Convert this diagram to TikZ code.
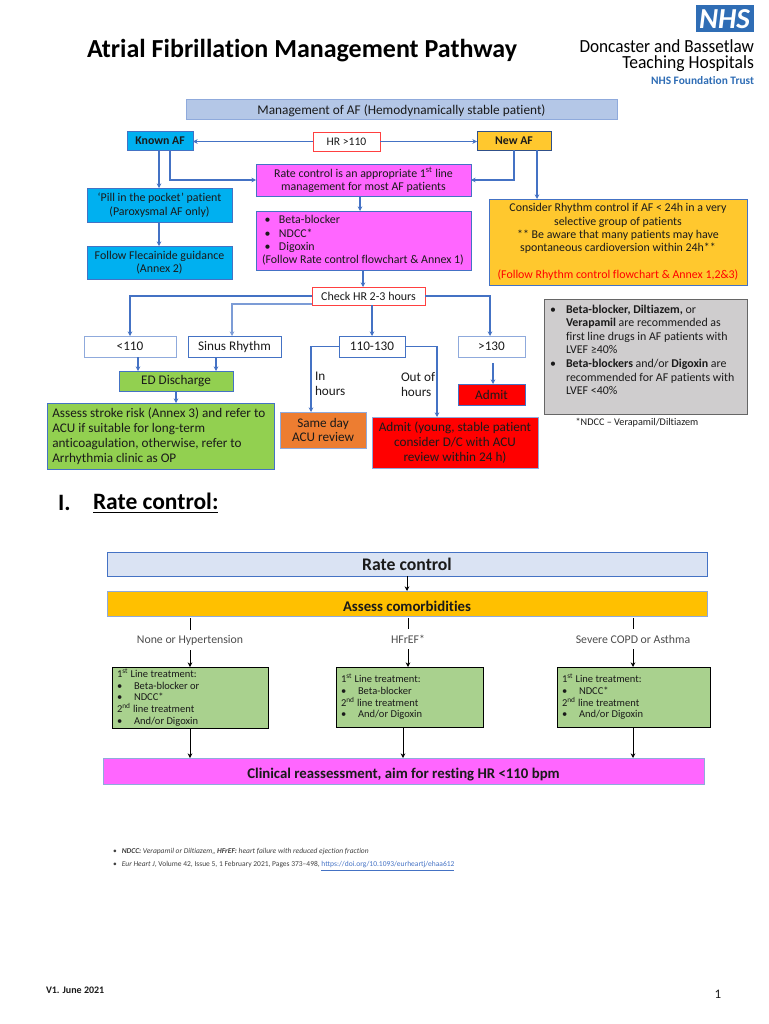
\documentclass[tikz,border=0pt]{standalone}
\usepackage{fontspec}
\setmainfont{Carlito}[Ligatures=NoCommon]
\usetikzlibrary{arrows.meta}
\definecolor{bl}{HTML}{4472C4}
\definecolor{lb}{HTML}{8FAADC}
\definecolor{hdr}{HTML}{B4C7E7}
\definecolor{cyanbox}{HTML}{00B0F0}
\definecolor{gold}{HTML}{FFC82E}
\definecolor{pink}{HTML}{FF66FF}
\definecolor{greyb}{HTML}{CFCDCE}
\definecolor{lime}{HTML}{92D050}
\definecolor{orangeb}{HTML}{ED7D31}
\definecolor{lav}{HTML}{DAE3F3}
\definecolor{amber}{HTML}{FFC000}
\definecolor{sage}{HTML}{A9D18E}
\definecolor{nhs}{HTML}{2F6DB5}
\definecolor{ink}{HTML}{1A1A1A}
\newcommand\fs[2]{\pgfmathsetmacro\fa{#1*.75}\pgfmathsetmacro\fb{#2*.75}\fontsize{\fa}{\fb}\selectfont}
\newcommand\bx[7]{%
  \pgfmathsetmacro\bw{(#4-#2)*.75}\pgfmathsetmacro\bh{(#5-#3)*.75}%
  \pgfmathsetmacro\cx{(#2+#4)/2}\pgfmathsetmacro\cy{-(#3+#5)/2}%
  \node[boxbase,minimum width=\bw pt,minimum height=\bh pt,#6] (#1) at (\cx,\cy) {#7};}
\tikzset{
  boxbase/.style={draw=bl,line width=.75pt,inner sep=0pt,outer sep=0pt,align=center,text=ink,font=\fs{11.9}{13.4}},
  lbox/.style={align=flush left,text width=\bw pt-2*#1 pt,inner xsep=#1 pt},
  arr/.style={draw=bl,line width=.85pt,-{Stealth[length=3.5pt,width=3.5pt]}},
  blk/.style={draw=black,line width=.75pt,-{Stealth[length=3.5pt,width=3.5pt]}},
  blkl/.style={draw=black,line width=.75pt},
  redb/.style={draw=red!75!white,fill=white},
  whiteb/.style={draw=lb,fill=white,font=\fs{13.2}{15}},
  sagebox/.style={draw=black,fill=sage,line width=.75pt,font=\fs{10.5}{11.7},lbox=3.75},
  plain/.style={inner sep=0pt,outer sep=0pt,text=ink},
  lab/.style={plain,text=black!70,font=\fs{11.8}{13},minimum height=15pt},
}
\begin{document}
\begin{tikzpicture}[x=.75pt,y=.75pt]
\useasboundingbox (0,0) rectangle (768,-1024);
% header
\node[plain,anchor=west,font=\bfseries\fs{26}{30},text=black] (title) at (87,-51) {Atrial Fibrillation Management Pathway};
\bx{nhslogo}{696}{6}{753}{32}{draw=nhs,fill=nhs,text=white,font=\bfseries\itshape\fs{29}{26}}{NHS}
\node[plain,anchor=east,font=\fs{18.5}{20},text=black] (trust1) at (754,-46) {\scalebox{.93}[1]{Doncaster and Bassetlaw}};
\node[plain,anchor=east,font=\fs{18.5}{20},text=black] (trust2) at (754,-64) {\scalebox{.95}[1]{Teaching Hospitals}};
\node[plain,anchor=east,font=\bfseries\fs{11.4}{14},text=nhs] (trust3) at (754,-81) {NHS Foundation Trust};
% upper flowchart
\bx{mgmt}{186}{99}{617}{119}{draw=lb,fill=hdr,font=\fs{13.3}{15}}{\rule{0pt}{9.5pt}Management of AF (Hemodynamically stable patient)}
\bx{known}{127}{131}{193}{150}{fill=cyanbox,font=\bfseries\fs{11.8}{13}}{Known AF}
\bx{hr}{313}{132}{380}{151}{redb,font=\fs{11.6}{13}}{HR >110}
\bx{newaf}{477}{131}{551}{150}{draw=bl!70!black,fill=gold,font=\bfseries\fs{11.8}{13}}{New AF}
\bx{rate}{256}{164}{471}{196}{fill=pink}{Rate control is an appropriate 1\textsuperscript{st} line\\management for most AF patients}
\bx{pill}{87}{188}{232}{222}{fill=cyanbox}{‘Pill in the pocket’ patient\\(Paroxysmal AF only)}
\bx{flec}{87}{246}{232}{279}{fill=cyanbox}{Follow Flecainide guidance\\(Annex 2)}
\bx{drugs}{256}{211}{471}{270}{fill=pink,lbox=4.5}{\makebox[12.75pt][l]{\ •}Beta-blocker\\\makebox[12.75pt][l]{\ •}NDCC*\\\makebox[12.75pt][l]{\ •}Digoxin\\(Follow Rate control flowchart \& Annex 1)}
\bx{rhythm}{489}{199}{747}{285}{fill=gold}{Consider Rhythm control if AF < 24h in a very\\selective group of patients\\** Be aware that many patients may have\\spontaneous cardioversion within 24h**\\[10pt]\textcolor{red}{(Follow Rhythm control flowchart \& Annex 1,2\&3)}}
\bx{grey}{544}{299}{747}{414}{draw=black!60,fill=greyb,lbox=4.5,font=\fs{11.9}{13.6}}{\makebox[12pt][l]{•}\textbf{Beta-blocker, Diltiazem,} or\\\makebox[12pt][l]{}\textbf{Verapamil} are recommended as\\\makebox[12pt][l]{}first line drugs in AF patients with\\\makebox[12pt][l]{}LVEF ≥40\%\\\makebox[12pt][l]{•}\textbf{Beta-blockers} and/or \textbf{Digoxin} are\\\makebox[12pt][l]{}recommended for AF patients with\\\makebox[12pt][l]{}LVEF <40\%\\\ }
\node[plain,font=\fs{10.2}{11}] (ndccnote) at (637,-423) {*NDCC – Verapamil/Diltiazem};
\bx{check}{312}{287}{425}{305}{redb,font=\fs{12}{13}}{Check HR 2-3 hours}
\bx{lt}{84}{336}{176}{357}{whiteb}{<110}
\bx{sinus}{188}{336}{281}{357}{whiteb,draw=bl}{Sinus Rhythm}
\bx{mid}{339}{336}{405}{357}{whiteb,draw=bl}{110-130}
\bx{gt}{458}{336}{525}{357}{whiteb}{>130}
\bx{admit}{458}{384}{525}{405}{fill=red,font=\fs{13.2}{15}}{Admit}
\bx{ed}{119}{371}{233}{391}{fill=lime,font=\fs{13.2}{15}}{ED Discharge}
\bx{stroke}{47}{403}{274}{469}{fill=lime,font=\fs{13.2}{15},lbox=4}{Assess stroke risk (Annex 3) and refer to\\ACU if suitable for long-term\\anticoagulation, otherwise, refer to\\Arrhythmia clinic as OP}
\bx{same}{280}{412}{366}{448}{draw=lb,fill=orangeb,font=\fs{13.2}{14.3}}{Same day\\ACU review}
\bx{admity}{372}{417}{538}{468}{draw=lb,fill=red,font=\fs{13.2}{14.6}}{Admit (young, stable patient\\consider D/C with ACU\\review within 24 h)}
\node[plain,anchor=north west,align=left,font=\fs{13.2}{15}] (inh) at (315,-372) {In\\hours};
\node[plain,anchor=north west,align=left,font=\fs{13.2}{15}] (outh) at (401,-372) {Out of\\hours};
\coordinate (xkd) at (159,0);
\coordinate (xkr) at (170,0);
\coordinate (xnr) at (514,0);
\coordinate (xnd) at (537,0);
\coordinate (xrd) at (360,0);
\coordinate (xdc) at (363,0);
\coordinate (xsi) at (232,0);
\coordinate (yci) at (0,-304);
\coordinate (xlt) at (138,0);
\coordinate (xse) at (216,0);
\coordinate (xes) at (176,0);
\coordinate (xsm) at (311,0);
\coordinate (xam) at (437,0);
\coordinate (xgt) at (490,0);
\coordinate (gtfree) at (493,-363);
\draw[arr] (hr.west) -- (known.east |- hr.west);
\draw[arr] (hr.east) -- (newaf.west |- hr.east);
\draw[arr] (known.south -| xkd) -- (pill.north -| xkd);
\draw[arr] (known.south -| xkr) |- (rate.west);
\draw[arr] (newaf.south -| xnr) |- (rate.east);
\draw[arr] (newaf.south -| xnd) -- (rhythm.north -| xnd);
\draw[arr] (rate.south -| xrd) -- (drugs.north -| xrd);
\draw[arr] (pill.south -| xkd) -- (flec.north -| xkd);
\draw[arr] (drugs.south -| xdc) -- (check.north -| xdc);
\draw[arr] (check.west) -| (lt.north);
\draw[arr,draw=bl!70!white] (check.west |- yci) -| (sinus.north -| xsi);
\draw[arr] (check.south -| mid.north) -- (mid.north);
\draw[arr] (check.east) -| (gt.north -| xgt);
\draw[arr] (lt.south -| xlt) -- (ed.north -| xlt);
\draw[arr] (sinus.south -| xse) -- (ed.north -| xse);
\draw[arr] (ed.south -| xes) -- (stroke.north -| xes);
\draw[arr] (mid.west) -| (same.north -| xsm);
\draw[arr] (mid.east) -| (admity.north -| xam);
\draw[arr] (gtfree) -- (admit.north -| gtfree);
% section heading
\node[plain,anchor=west,font=\bfseries\fs{23.5}{26},text=black] (romani) at (58,-503) {I.};
\node[plain,anchor=west,font=\bfseries\fs{23.5}{26},text=black] (sect) at (93,-503) {\underline{Rate control:}};
% lower flowchart
\bx{rc}{107}{552}{707}{576}{fill=lav,font=\bfseries\fs{17.7}{19}}{Rate control}
\bx{ac}{107}{591}{707}{616}{draw=lb,fill=amber,font=\bfseries\fs{14.8}{16}}{\rule{0pt}{11.5pt}Assess comorbidities}
\bx{cr}{103}{758}{704}{784}{draw=lb,fill=pink,font=\bfseries\fs{14.8}{16}}{\rule{0pt}{13pt}Clinical reassessment, aim for resting HR <110 bpm}
\bx{ga}{112}{667}{268}{728}{sagebox}{1\textsuperscript{st} Line treatment:\\\makebox[12.75pt][l]{•}Beta-blocker or\\\makebox[12.75pt][l]{•}NDCC*\\2\textsuperscript{nd} line treatment\\\makebox[12.75pt][l]{•}And/or Digoxin}
\bx{gb}{336}{667}{483}{727}{sagebox}{1\textsuperscript{st} Line treatment:\\\makebox[12.75pt][l]{•}Beta-blocker\\2\textsuperscript{nd} line treatment\\\makebox[12.75pt][l]{•}And/or Digoxin}
\bx{gc}{557}{667}{710}{727}{sagebox}{1\textsuperscript{st} Line treatment:\\\makebox[12.75pt][l]{•}NDCC*\\2\textsuperscript{nd} line treatment\\\makebox[12.75pt][l]{•}And/or Digoxin}
\node[lab] (la) at (190,-640) {None or Hypertension};
\node[lab] (lb) at (408,-639) {HFrEF*};
\node[lab] (lc) at (633,-639) {Severe COPD or Asthma};
\coordinate (xba) at (190,0);
\coordinate (xbb) at (403,0);
\coordinate (xra) at (407,0);
\coordinate (acgap) at (0,-618);
\draw[blk] (rc.south -| xra) -- (ac.north -| xra);
\draw[blkl] (la.north |- acgap) -- (la.north);
\draw[blkl] (lb.north |- acgap) -- (lb.north);
\draw[blkl] (lc.north |- acgap) -- (lc.north);
\draw[blk] (la.south) -- (ga.north -| la.south);
\draw[blk] (lb.south) -- (gb.north -| lb.south);
\draw[blk] (lc.south) -- (gc.north -| lc.south);
\draw[blk] (ga.south -| xba) -- (cr.north -| xba);
\draw[blk] (gb.south -| xbb) -- (cr.north -| xbb);
\draw[blk] (gc.south -| lc.south) -- (cr.north -| lc.south);
% footnotes
\node[plain,anchor=west,font=\fs{7.5}{9},text=black!75] (fn1) at (113,-852) {\makebox[6.6pt][l]{•}\textit{\textbf{NDCC:} Verapamil or Diltiazem,, \textbf{HFrEF:} heart failure with reduced ejection fraction}};
\node[plain,anchor=west,font=\fs{7.5}{9},text=black!75] (fn2) at (113,-866) {\makebox[6.6pt][l]{•}\textit{Eur Heart J}, Volume 42, Issue 5, 1 February 2021, Pages 373–498, \textcolor{bl}{\underline{https://doi.org/10.1093/eurheartj/ehaa612}}};
\node[plain,anchor=west,font=\bfseries\fs{10}{11}] (ver) at (46,-990) {V1. June 2021};
\node[plain,font=\fs{13}{15}] (pg) at (718,-994) {1};
\end{tikzpicture}
\end{document}
